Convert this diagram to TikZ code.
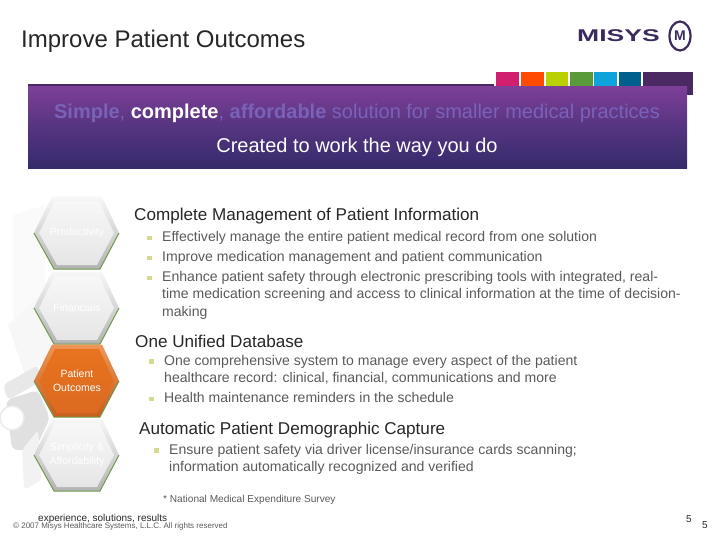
\documentclass[tikz,border=0pt]{standalone}
\usepackage{fontspec}
\usepackage{graphicx}
\usetikzlibrary{shapes.geometric}
\setmainfont{Liberation Sans}
\definecolor{bandtop}{HTML}{7D3F98}
\definecolor{bandlow}{HTML}{352B6B}
\definecolor{banddark}{HTML}{4B2A63}
\definecolor{softblue}{HTML}{7A62B8}
\definecolor{bodygray}{HTML}{5A5A5A}
\definecolor{hexgreen}{HTML}{6F9A4A}
\definecolor{hexorange}{HTML}{E8731F}
\definecolor{hexdeep}{HTML}{DC6A20}
\definecolor{bulletpale}{HTML}{D6DA8E}
\definecolor{logoink}{HTML}{3B2A5E}
\newcommand{\hexcell}[7]{%
  \shade[top color=#3,bottom color=#4] (34,#2) -- (52,#2-36.5) -- (102,#2-36.5) -- (119,#2) -- (100,#2+36) -- (54,#2+36) -- cycle;
  \shade[top color=#5,bottom color=#6] (39,#2) -- (55,#2-32) -- (99,#2-32) -- (114,#2) -- (97,#2+32) -- (57,#2+32) -- cycle;
  \draw[hexgreen,line width=1pt] (119,#2) -- (100,#2+36) -- (54,#2+36) -- (34,#2);
  \node[hexlabel,text=white] (#1) at (77,#2) {#7};
}
\newcommand{\bul}{\textcolor{bulletpale}{\rule[1.5pt]{4.5pt}{4.5pt}}\hspace{10.5pt}}
\newcommand{\hang}{\hspace{15pt}}
\tikzset{
  heading/.style = {anchor=west,inner sep=0pt,font=\fontsize{17.1}{20}\selectfont,text=black!85},
  bodytext/.style = {anchor=north west,inner sep=0pt,align=left,text=bodygray,font=\fontsize{14.05}{17.3}\selectfont},
  hexlabel/.style = {inner sep=0pt,align=center,font=\fontsize{10.5}{14}\selectfont},
  swatch/.style = {minimum height=14pt,inner sep=0pt,anchor=north west,outer sep=0pt},
}
\begin{document}
\begin{tikzpicture}[x=1pt,y=-1pt]
    \useasboundingbox (0,0) rectangle (720,540);
    % faded photo behind the cells
    \fill[black!2] (13,215) -- (45,205) -- (45,300) -- (13,320) -- cycle;
    \fill[black!3] (8,325) -- (45,290) -- (70,345) -- (25,375) -- cycle;
    \fill[black!9,rounded corners=4pt] (3,385) -- (38,365) -- (40,382) -- (8,400) -- cycle;
    \fill[black!12,rounded corners=6pt] (6,400) -- (38,390) -- (50,418) -- (35,450) -- (12,450) -- cycle;
    \fill[black!5,rounded corners=4pt] (22,450) -- (38,430) -- (42,480) -- (24,490) -- cycle;
    \draw[black!8,fill=white,line width=1.5pt] (12,418) circle (12);

    \node[anchor=west,inner sep=0pt,font=\fontsize{24}{28}\selectfont,text=black!85] (title) at (21,41) {Improve Patient Outcomes};

    % logo
    \node[anchor=west,inner sep=0pt,font=\bfseries\fontsize{17}{20}\selectfont,text=logoink] (logo) at (577,36) {\scalebox{1.56}[1]{MISYS}};
    \node[draw=logoink,line width=2.2pt,ellipse,minimum width=21pt,minimum height=29pt,inner sep=0pt,font=\bfseries\fontsize{14}{16}\selectfont,text=logoink] (logomark) at (680,36) {M};

    % colour strip
    \foreach \name/\xpos/\wide/\tint in {a/496/23/D01F6E,b/521/23/FF4A00,c/546/22/BAD000,d/570/23/5B9A3A,e/594/23/0FA3DC,f/619/22/005F8C}{
        \definecolor{swatchtint}{HTML}{\tint}
        \node[swatch,fill=swatchtint,minimum width=\wide pt] (\name) at (\xpos,72) {};
    }
    \node[swatch,fill=banddark,minimum width=50pt,minimum height=23pt] (g) at (643,72) {};

    % banner
    \fill[banddark] (28,84) rectangle (494,87);
    \node[anchor=north west,inner sep=0pt,minimum width=659pt,minimum height=82pt,top color=bandtop,bottom color=bandlow,middle color=bandtop!45!bandlow,shading angle=0] (band) at (28,86) {};
    \node[inner sep=0pt,font=\fontsize{20}{24}\selectfont,text=softblue] (claim) at (357,113.5) {\textbf{Simple}, \textcolor{white}{\textbf{complete}}, \textbf{affordable} solution for smaller medical practices};
    \node[inner sep=0pt,font=\fontsize{20}{24}\selectfont,text=white] (motto) at (357,147) {Created to work the way you do};

    % cells
    \hexcell{prod}{233}{black!3}{black!30}{black!3}{black!10}{Productivity}
    \hexcell{fin}{308}{black!3}{black!30}{black!3}{black!10}{Financials}
    \hexcell{out}{381}{hexorange!75!white}{hexdeep!90!black}{hexorange}{hexdeep}{Patient\\Outcomes}
    \hexcell{simp}{455}{black!3}{black!30}{black!3}{black!10}{Simplicity \&\\Affordability}

    % first block
    \node[heading] (headone) at (134,216) {Complete Management of Patient Information};
    \node[bodytext] (listone) at (147,231.5) {\bul Effectively manage the entire patient medical record from one solution\\[2.6pt]
        \bul Improve medication management and patient communication\\[2.6pt]
        \bul Enhance patient safety through electronic prescribing tools with integrated, real-\\
        \hang time medication screening and access to clinical information at the time of decision-\\
        \hang making};

    % second block
    \node[heading] (headtwo) at (135,341) {One Unified Database};
    \node[bodytext] (listtwo) at (149,355) {\bul One comprehensive system to manage every aspect of the patient\\
        \hang healthcare record: clinical, financial, communications and more\\[2.6pt]
        \bul Health maintenance reminders in the schedule};

    % third block
    \node[heading] (headthree) at (139,430) {Automatic Patient Demographic Capture};
    \node[bodytext] (listthree) at (154,444) {\bul Ensure patient safety via driver license/insurance cards scanning;\\
        \hang information automatically recognized and verified};

    % footer
    \node[anchor=west,inner sep=0pt,font=\fontsize{10.1}{12}\selectfont,text=bodygray] (survey) at (163,500) {* National Medical Expenditure Survey};
    \node[anchor=west,inner sep=0pt,font=\fontsize{10}{12}\selectfont,text=black!85] (tagline) at (38,519) {experience, solutions, results};
    \node[anchor=west,inner sep=0pt,font=\fontsize{8}{9}\selectfont,text=bodygray] (rights) at (13,526) {© 2007 Misys Healthcare Systems, L.L.C. All rights reserved};
    \node[inner sep=0pt,font=\fontsize{10}{12}\selectfont,text=black!85] (pagea) at (689,519) {5};
    \node[inner sep=0pt,font=\fontsize{10}{12}\selectfont,text=black!85] (pageb) at (705,525) {5};
\end{tikzpicture}
\end{document}
